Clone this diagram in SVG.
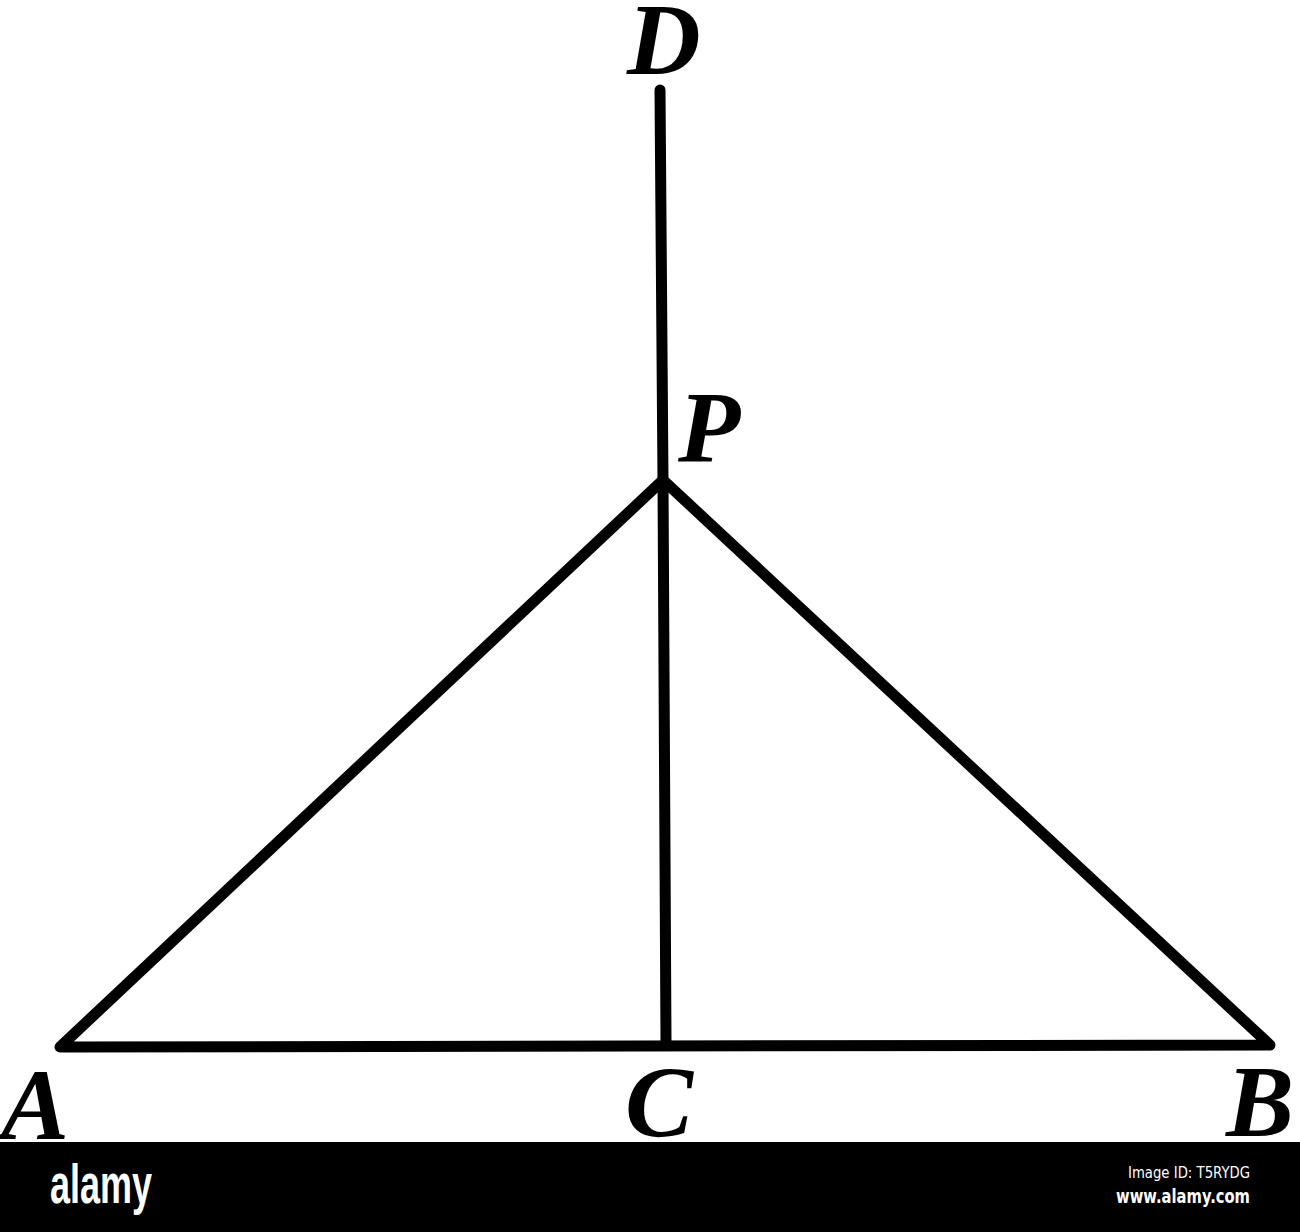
<svg xmlns="http://www.w3.org/2000/svg" width="1300" height="1232" viewBox="0 0 1300 1232">
<style>
.ln{stroke:#000;stroke-width:11;fill:none;stroke-linecap:round;stroke-linejoin:round}
.lbl{font-family:"Liberation Serif","Times New Roman",serif;font-weight:bold;font-style:italic;font-size:102px;fill:#000}
</style>
<rect width="1300" height="1232" fill="#fff"/>
<g id="connectors">
<path class="ln" d="M660 90 L663 480"/>
<path class="ln" d="M663 480 L60 1047 L1270 1045 Z"/>
<path class="ln" d="M663 480 L666 1043"/>
</g>
<g id="D"><text class="lbl" x="627" y="74" font-size="98">D</text></g>
<g id="P"><text class="lbl" x="678" y="462">P</text></g>
<g id="A"><text class="lbl" x="1" y="1139">A</text></g>
<g id="C"><text class="lbl" x="625" y="1137">C</text></g>
<g id="B"><text class="lbl" x="1226" y="1136">B</text></g>
<g id="watermark">
<rect x="0" y="1142" width="1300" height="90" fill="#000"/>
<text x="50" y="1203" font-family="Liberation Sans Narrow,Liberation Sans,sans-serif" font-weight="bold" font-size="56" fill="#fff" textLength="102" lengthAdjust="spacingAndGlyphs">alamy</text>
<text x="1128" y="1178" font-family="DejaVu Sans,sans-serif" font-size="16" fill="#fff" textLength="122" lengthAdjust="spacingAndGlyphs">Image ID: T5RYDG</text>
<text x="1116" y="1203" font-family="DejaVu Sans,sans-serif" font-weight="bold" font-size="19" fill="#fff" textLength="134" lengthAdjust="spacingAndGlyphs">www.alamy.com</text>
</g>
</svg>
